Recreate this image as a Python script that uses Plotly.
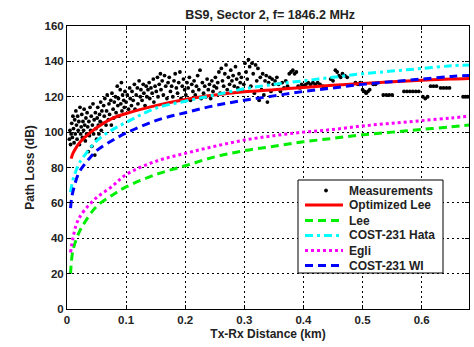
import plotly.graph_objects as go

# ---- model curves ----
lee_x = [0.006, 0.01, 0.02, 0.03, 0.05, 0.075, 0.1, 0.15, 0.2, 0.25, 0.3, 0.35, 0.4, 0.45, 0.5, 0.55, 0.6, 0.65, 0.68]
lee_y = [20, 33, 43, 49, 58, 64, 69, 76, 81, 86, 89.5, 92, 94.5, 96.5, 98.5, 100, 101.5, 103, 104]

egli_x = [0.006, 0.01, 0.015, 0.02, 0.03, 0.05, 0.075, 0.1, 0.15, 0.2, 0.25, 0.3, 0.35, 0.4, 0.45, 0.5, 0.55, 0.6, 0.65, 0.68]
egli_y = [32, 40, 47, 51, 56, 63, 69, 76, 83.5, 88, 92, 95.5, 98, 100, 101.5, 103.5, 105, 106.5, 108, 109]

wi_x = [0.006, 0.008, 0.012, 0.02, 0.03, 0.04, 0.05, 0.075, 0.1, 0.15, 0.2, 0.25, 0.3, 0.35, 0.4, 0.45, 0.5, 0.55, 0.6, 0.65, 0.68]
wi_y = [57, 63, 69, 77, 82, 86, 89.5, 95, 99.5, 106.5, 111, 115, 118, 120.5, 123, 125, 127, 128.5, 130, 131.5, 132]

hata_x = [0.006, 0.01, 0.015, 0.02, 0.03, 0.05, 0.075, 0.1, 0.15, 0.2, 0.25, 0.3, 0.35, 0.4, 0.45, 0.5, 0.55, 0.6, 0.65, 0.68]
hata_y = [66, 73, 78, 82, 87, 95, 101, 105.5, 113.5, 117.5, 121, 124.5, 127, 129, 131, 133, 134.5, 136, 137.5, 138]

olee_x = [0.007, 0.01, 0.015, 0.02, 0.03, 0.05, 0.075, 0.1, 0.15, 0.2, 0.25, 0.3, 0.35, 0.4, 0.45, 0.5, 0.55, 0.6, 0.65, 0.68]
olee_y = [85, 88, 91, 93.5, 97, 102.5, 107.5, 110.5, 115, 118.5, 121, 122.8, 124, 125.3, 126.5, 127.5, 128.5, 129.3, 130, 130.3]

meas = [
 (0.004,96),(0.005,101),(0.006,93),(0.007,99),(0.008,105),(0.009,97),(0.010,109),(0.011,102),(0.012,94),(0.013,107),
 (0.014,99),(0.015,112),(0.016,104),(0.017,96),(0.018,109),(0.019,101),(0.020,106),(0.021,93),(0.022,114),(0.023,99),
 (0.024,103),(0.025,110),(0.026,97),(0.027,106),(0.028,101),(0.029,113),(0.030,104),(0.031,95),(0.032,108),(0.033,99),
 (0.034,111),(0.035,103),(0.036,89),(0.037,106),(0.038,98),(0.039,114),(0.040,101),(0.041,109),(0.042,92),(0.043,104),
 (0.044,116),(0.045,99),(0.046,107),(0.047,87),(0.048,111),(0.049,102),(0.050,96),(0.051,108),(0.052,114),(0.053,104),
 (0.054,99),(0.055,110),(0.056,106),(0.057,117),(0.058,101),(0.059,112),
 (0.060,105),(0.062,115),(0.063,109),(0.064,119),(0.066,104),(0.067,112),(0.068,121),(0.070,107),(0.071,116),(0.072,110),
 (0.074,118),(0.075,104),(0.076,122),(0.078,113),(0.079,108),(0.080,117),(0.082,120),(0.083,111),(0.085,126),(0.086,115),
 (0.087,119),(0.088,109),(0.090,124),(0.091,116),(0.092,128),(0.093,112),(0.094,121),(0.096,118),(0.097,114),(0.098,123),
 (0.100,117),(0.102,121),(0.104,113),(0.106,125),(0.107,119),(0.109,115),(0.110,123),(0.112,118),(0.114,127),(0.115,113),
 (0.117,121),(0.119,125),(0.120,116),(0.122,129),(0.124,120),(0.125,124),(0.127,118),(0.129,127),(0.130,122),(0.132,115),
 (0.134,126),(0.135,120),(0.137,124),(0.139,128),(0.140,119),(0.142,125),(0.144,122),(0.146,130),(0.147,117),(0.149,126),
 (0.151,123),(0.153,131),(0.154,120),(0.156,127),(0.158,133),(0.159,124),
 (0.161,129),(0.163,121),(0.165,132),(0.167,126),(0.169,119),(0.171,128),(0.173,131),(0.175,123),(0.177,126),(0.179,120),
 (0.181,129),(0.183,133),(0.185,125),(0.187,122),(0.189,128),(0.191,134),(0.193,119),(0.195,126),(0.197,130),(0.199,124),
 (0.201,121),(0.203,128),(0.205,125),(0.207,131),(0.209,118),(0.211,127),(0.213,123),(0.215,129),(0.217,121),(0.219,126),
 (0.221,132),(0.223,124),(0.225,135),(0.227,119),(0.229,128),(0.231,122),(0.233,126),(0.235,120),(0.237,130),(0.239,124),
 (0.241,127),(0.243,119),(0.245,129),(0.247,123),(0.249,126),
 (0.251,131),(0.253,125),(0.255,128),(0.257,134),(0.259,122),(0.261,136),(0.263,129),(0.265,126),(0.267,133),(0.269,138),
 (0.271,124),(0.273,131),(0.275,127),(0.277,135),(0.279,129),(0.281,132),(0.283,126),(0.285,137),(0.287,130),(0.289,125),
 (0.291,133),(0.293,128),(0.295,131),(0.297,124),(0.299,127),(0.301,139),(0.303,134),(0.305,130),(0.307,141),(0.309,137),
 (0.311,126),(0.313,139),(0.315,133),(0.317,122),(0.319,138),(0.321,129),(0.323,136),(0.325,118),(0.327,131),(0.329,124),
 (0.331,133),(0.333,121),(0.335,129),(0.337,132),(0.339,117),(0.341,128),(0.343,131),(0.345,123),(0.347,130),(0.349,127),
 (0.352,129),(0.355,131),(0.358,127),(0.361,123),(0.364,128),(0.367,125),(0.370,129),(0.373,126),(0.376,133),(0.379,134),
 (0.382,135),(0.385,133),(0.388,134),(0.391,126),(0.394,125),(0.397,127),(0.400,126),(0.404,127),(0.408,128),(0.412,127),
 (0.416,128),(0.420,127),(0.424,128),(0.428,127),(0.433,126),(0.438,125),(0.446,130),(0.450,129),(0.454,135),(0.457,134),
 (0.460,132),(0.463,131),(0.466,133),(0.470,132),(0.474,131),
 (0.488,128),(0.492,127),(0.496,128),(0.500,124),(0.503,123),(0.506,122),(0.509,123),(0.512,124),(0.518,127),(0.522,127),
 (0.535,121),(0.540,121),(0.545,121),(0.550,121),(0.570,123),(0.575,123),(0.580,123),(0.585,123),(0.590,123),(0.595,123),
 (0.602,120),(0.606,119),(0.610,120),(0.615,126),(0.620,126),(0.625,126),(0.632,125),(0.637,125),(0.642,125),(0.647,125),
 (0.670,120),(0.674,120),(0.678,120),(0.682,120),
]
meas_x = [p[0] for p in meas]
meas_y = [p[1] for p in meas]

x_ticks = [0, 0.1, 0.2, 0.3, 0.4, 0.5, 0.6]
x_labels = ["0", "0.1", "0.2", "0.3", "0.4", "0.5", "0.6"]
y_ticks = [0, 20, 40, 60, 80, 100, 120, 140, 160]

FONT = "Liberation Sans"
TXT = "#222"

series = [
    ("Optimized Lee", olee_x, olee_y, "#ff0000", "solid"),
    ("Lee", lee_x, lee_y, "#00ee00", "8px,5px"),
    ("COST-231 Hata", hata_x, hata_y, "#00ffff", "8px,4px,3px,4px"),
    ("Egli", egli_x, egli_y, "#ff00ff", "3px,3px"),
    ("COST-231 WI", wi_x, wi_y, "#0000ff", "8px,5px"),
]

fig = go.Figure()
fig.add_trace(go.Scatter(x=meas_x, y=meas_y, mode="markers", name="Measurements",
                         marker=dict(color="black", size=3.8, symbol="circle")))
for name, xs, ys, col, dash in series:
    fig.add_trace(go.Scatter(x=xs, y=ys, mode="lines", name=name,
                             line=dict(color=col, width=3, dash=dash, shape="spline")))

axis_common = dict(
    showline=True, linecolor="black", linewidth=1, mirror="ticks",
    ticks="inside", ticklen=4, tickcolor="black",
    showgrid=True, gridcolor="black", gridwidth=1, griddash="2px,3px",
    zeroline=False,
    tickfont=dict(family=FONT, size=11.5, color=TXT, weight="bold"),
)

fig.update_xaxes(range=[0, 0.68], tickvals=x_ticks, ticktext=x_labels,
                 title=dict(text="Tx-Rx Distance (km)", standoff=4,
                            font=dict(family=FONT, size=12, color=TXT, weight="bold")),
                 **axis_common)
fig.update_yaxes(range=[0, 160], tickvals=y_ticks,
                 title=dict(text="Path Loss (dB)", standoff=7,
                            font=dict(family=FONT, size=12, color=TXT, weight="bold")),
                 **axis_common)

# ---- custom compact legend (paper coordinates of the plot area) ----
L, R, T, B = 67, 469, 26, 309
def px(xp): return (xp - L) / (R - L)
def py(yp): return (B - yp) / (B - T)

shapes = [dict(type="rect", xref="paper", yref="paper",
               x0=px(298), x1=px(443), y0=py(273), y1=py(180),
               line=dict(color="black", width=1), fillcolor="white", layer="above")]
annotations = []
row_y = [190.5, 205, 220.5, 235.5, 250.5, 265.5]
labels = ["Measurements"] + [s[0] for s in series]
for i, (lab, yy) in enumerate(zip(labels, row_y)):
    annotations.append(dict(text=lab, xref="paper", yref="paper", x=px(347), y=py(yy),
                            xanchor="left", yanchor="middle", showarrow=False,
                            font=dict(family=FONT, size=12, color=TXT, weight="bold")))
    if i == 0:
        shapes.append(dict(type="circle", xref="paper", yref="paper",
                           x0=px(324.5), x1=px(327.5), y0=py(yy + 1.5), y1=py(yy - 1.5),
                           line=dict(color="black", width=1), fillcolor="black", layer="above"))
    else:
        _, _, _, col, dash = series[i - 1]
        shapes.append(dict(type="line", xref="paper", yref="paper",
                           x0=px(305), x1=px(343), y0=py(yy), y1=py(yy),
                           line=dict(color=col, width=3, dash=dash), layer="above"))

fig.update_layout(
    width=474, height=347,
    margin=dict(l=67, r=5, t=26, b=38),
    paper_bgcolor="white", plot_bgcolor="white",
    title=dict(text="BS9, Sector 2, f= 1846.2 MHz", x=0.57, xanchor="center", y=0.958, yanchor="middle",
               font=dict(family=FONT, size=12.5, color=TXT, weight="bold")),
    showlegend=False,
    shapes=shapes,
    annotations=annotations,
)

fig.write_html("out.html")
